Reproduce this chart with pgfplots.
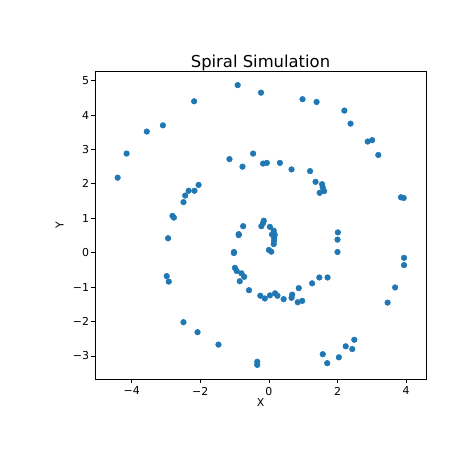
\documentclass[border=0pt]{standalone}
\usepackage{fontspec}
\setmainfont{DejaVu Sans}
\usepackage{pgfplots}
\pgfplotsset{compat=1.18}
\definecolor{tabblue}{HTML}{1F77B4}
\begin{document}
\begin{tikzpicture}
\path[use as bounding box] (-71.25pt,-71.25pt) rectangle (284.25pt,284.25pt);
\begin{axis}[
  at={(0,0)}, anchor=south west,
  scale only axis, width=248.25pt, height=231pt,
  xmin=-5.07, xmax=4.58, ymin=-3.67, ymax=5.28,
  axis line style={line width=0.6pt, black},
  tick align=outside, major tick length=2.8pt,
  tick style={line width=0.6pt, black},
  xtick={-4,-2,0,2,4}, xticklabels={−4,−2,0,2,4},
  ytick={-3,-2,-1,0,1,2,3,4,5}, yticklabels={−3,−2,−1,0,1,2,3,4,5},
  xtick pos=bottom, ytick pos=left,
  /pgf/number format/assume math mode=true,
  ticklabel style={font=\fontsize{8.2}{9}\selectfont},
  xticklabel style={inner sep=0pt, yshift=-3pt},
  yticklabel style={inner sep=0pt, xshift=-1.5pt},
  title={Spiral Simulation},
  title style={at={(axis description cs:0.5,1)}, anchor=base, yshift=-3.5pt, inner sep=0pt, font=\fontsize{12.3}{14}\selectfont},
  xlabel={X}, ylabel={Y},
  xlabel style={at={(axis description cs:0.5,0)}, anchor=north, yshift=-14.25pt, inner sep=0pt, font=\fontsize{8.2}{9}\selectfont},
  ylabel style={at={(axis description cs:0,0.5)}, anchor=center, yshift=26.5pt, inner sep=0pt, font=\fontsize{8.2}{9}\selectfont},
]
\addplot[only marks, mark=*, mark size=2.1pt, color=tabblue, mark options={draw=tabblue, fill=tabblue}] coordinates {
(-4.41,2.18) (-4.15,2.88) (-3.56,3.52) (-3.09,3.70) (-2.18,4.40) (-0.91,4.87)
(-0.23,4.65) (0.98,4.46) (1.39,4.38) (2.20,4.13) (2.38,3.75) (2.88,3.23)
(3.01,3.27) (3.19,2.84) (3.85,1.61) (3.93,1.59) (3.94,-0.15) (3.94,-0.36)
(3.68,-1.01) (3.46,-1.45) (2.49,-2.53) (2.24,-2.72) (2.43,-2.80) (2.04,-3.04)
(1.57,-2.95) (1.70,-3.21) (-0.34,-3.17) (-0.34,-3.26) (-1.47,-2.67) (-2.08,-2.31)
(-2.49,-2.02) (-2.92,-0.84) (-2.98,-0.68) (-2.94,0.42) (-2.81,1.07) (-2.77,1.02)
(-2.49,1.47) (-2.44,1.66) (-2.34,1.80) (-2.17,1.80) (-2.05,1.97) (-1.15,2.72)
(-0.77,2.50) (-0.46,2.88) (-0.17,2.59) (-0.06,2.61) (0.32,2.61) (0.66,2.42)
(1.20,2.37) (1.36,2.06) (1.55,1.99) (1.57,1.89) (1.61,1.79) (1.48,1.74)
(2.01,0.59) (2.00,0.38) (2.00,0.02) (1.71,-0.72) (1.47,-0.72) (1.26,-0.89)
(0.87,-1.03) (0.97,-1.40) (0.84,-1.44) (0.66,-1.31) (0.68,-1.22) (0.43,-1.35)
(0.25,-1.25) (0.18,-1.18) (0.03,-1.24) (-0.12,-1.33) (-0.25,-1.25) (-0.58,-1.09)
(-0.85,-0.83) (-0.72,-0.70) (-0.80,-0.60) (-0.94,-0.53) (-0.99,-0.44) (-1.02,0.02)
(-1.02,-0.01) (-0.88,0.54) (-0.88,0.51) (-0.75,0.77) (-0.22,0.77) (-0.17,0.86)
(-0.15,0.93) (0.03,0.75) (0.14,0.64) (0.09,0.53) (0.17,0.52) (0.15,0.44)
(0.15,0.35) (0.14,0.25) (0.00,0.08) (0.07,0.03)
};
\end{axis}
\end{tikzpicture}
\end{document}
